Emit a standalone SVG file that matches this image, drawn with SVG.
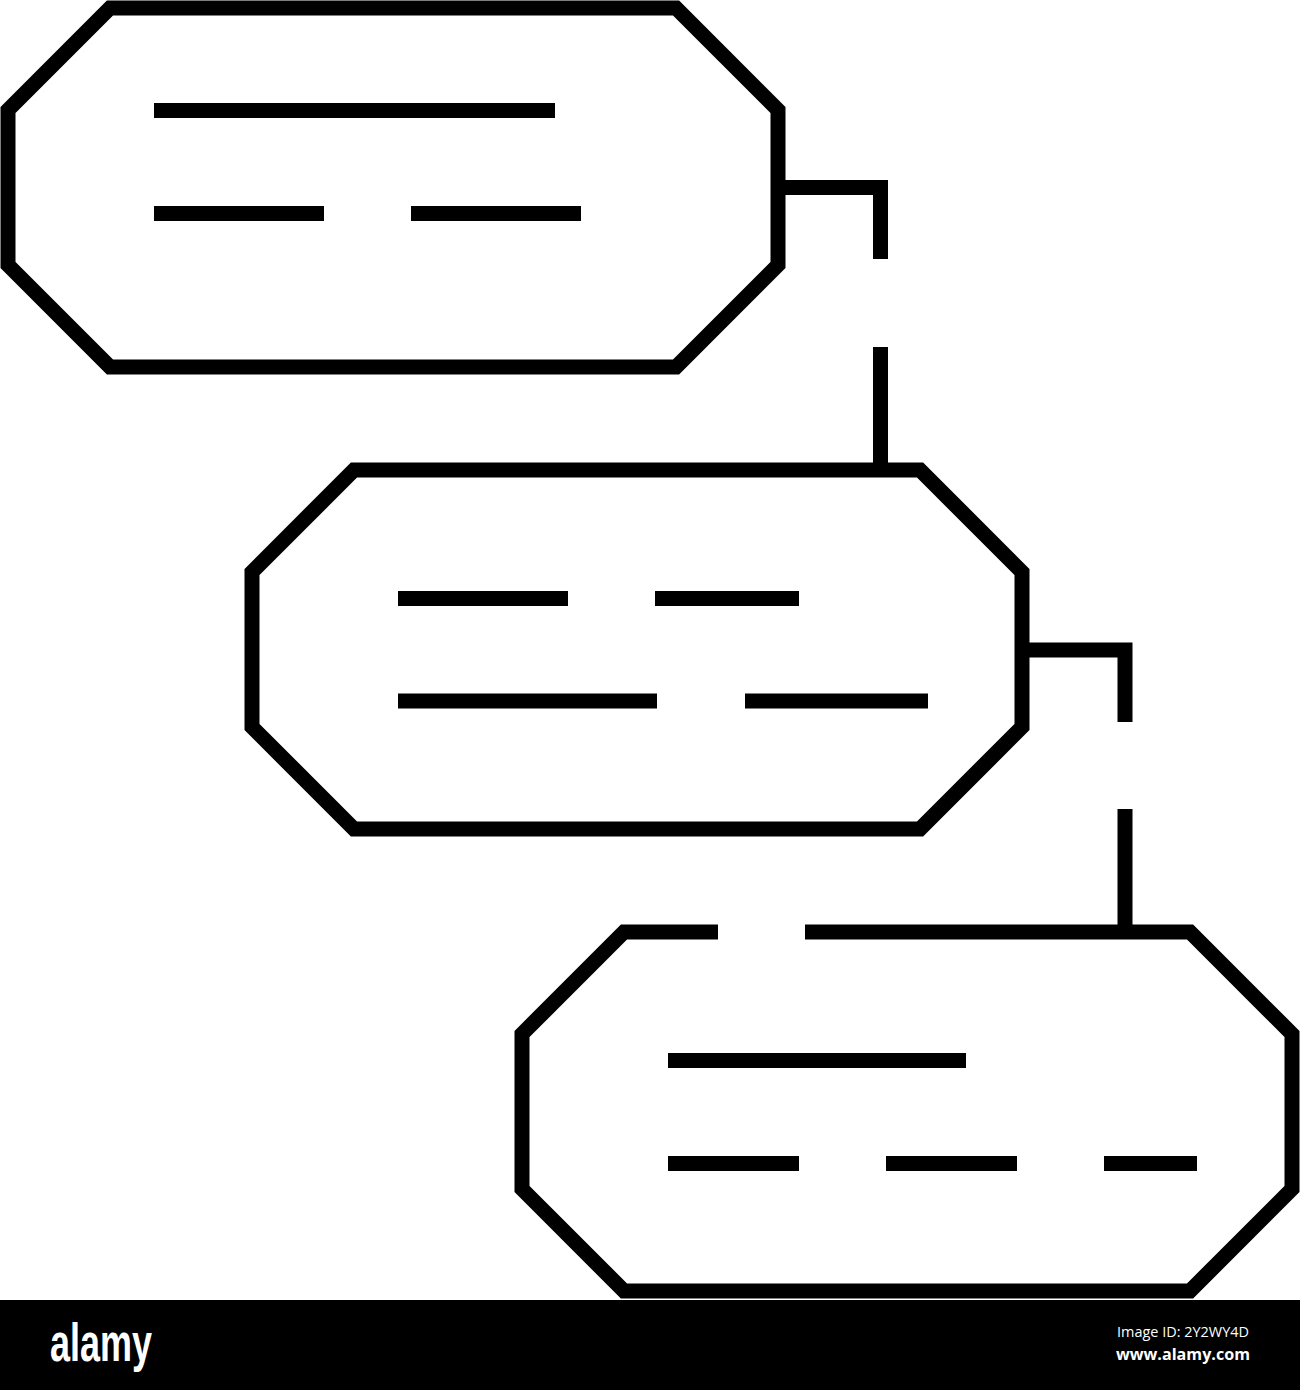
<svg xmlns="http://www.w3.org/2000/svg" width="1300" height="1390" viewBox="0 0 1300 1390">
  <style>
    .shape { fill: none; stroke: #000; stroke-width: 15; stroke-linejoin: miter; stroke-linecap: butt; }
    .bar { fill: none; stroke: #000; stroke-width: 15; stroke-linecap: butt; }
    .logo { font-family: "Liberation Sans", Arial, sans-serif; font-weight: bold; fill: #fff; }
    .meta { font-family: "Open Sans", "DejaVu Sans", sans-serif; fill: #fff; }
  </style>
  <rect x="0" y="0" width="1300" height="1390" fill="#fff"/>
  <g id="node-1">
    <polygon class="shape" points="110,8 676,8 778,110 778,265 676,367 110,367 8,265 8,110"/>
    <path class="bar" d="M154,110.5 H555 M154,213.5 H324 M411,213.5 H581"/>
  </g>
  <g id="node-2">
    <polygon class="shape" points="354,470 920,470 1022,572 1022,727 920,829 354,829 252,727 252,572"/>
    <path class="bar" d="M398,598.5 H568 M655,598.5 H799 M398,701 H657 M745,701 H928"/>
  </g>
  <g id="node-3">
    <path class="shape" d="M718,932 H624 L522,1034 V1189 L624,1291 H1190 L1292,1189 V1034 L1190,932 H805"/>
    <path class="bar" d="M668,1060.5 H966 M668,1163.5 H799 M886,1163.5 H1017 M1104,1163.5 H1197"/>
  </g>
  <g id="connectors">
    <path class="shape" d="M778,187.5 H880.5 V259"/>
    <path class="shape" d="M880.5,347 V470"/>
    <path class="shape" d="M1022,650 H1125 V722"/>
    <path class="shape" d="M1125,809 V932"/>
  </g>
  <g id="banner">
    <rect x="0" y="1300" width="1300" height="90" fill="#000"/>
    <text class="logo" x="50" y="1361" font-size="54" textLength="102" lengthAdjust="spacingAndGlyphs">alamy</text>
    <text class="meta" x="1117" y="1337" font-size="14" textLength="132" lengthAdjust="spacingAndGlyphs">Image ID: 2Y2WY4D</text>
    <text class="meta" x="1116" y="1360" font-size="16" font-weight="bold" textLength="134" lengthAdjust="spacingAndGlyphs">www.alamy.com</text>
  </g>
</svg>
